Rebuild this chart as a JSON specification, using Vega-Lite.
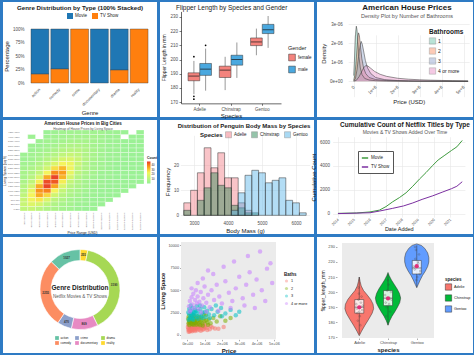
{
"$schema":"https://vega.github.io/schema/vega-lite/v6.json",
"background":"#2e7bc4",
"padding":{"left":2,"top":2,"right":2,"bottom":2},
"columns":3,
"spacing":3,
"bounds":"flush",
"resolve":{"scale":{"color":"independent","fill":"independent","theta":"independent","xOffset":"independent"},"legend":{"color":"independent","fill":"independent"}},
"config":{
 "font":"Liberation Sans",
 "view":{"fill":"white","stroke":null},
 "axis":{"labelFontSize":4.5,"labelColor":"#4d4d4d","titleFontSize":6,"titleFontWeight":"normal","titleColor":"#1a1a1a","domain":false,"ticks":false,"grid":false,"labelPadding":2,"titlePadding":2,"labelOverlap":false,"labelFlush":false,"labelBound":false,"minExtent":0,"maxExtent":200},
 "legend":{"labelFontSize":5,"titleFontSize":6,"labelColor":"#1a1a1a","titleColor":"#1a1a1a","rowPadding":1,"titlePadding":2,"labelOffset":2,"padding":0},
 "title":{"fontSize":6.5,"fontWeight":"bold","color":"#1a1a1a","frame":"group","subtitleColor":"#555555","subtitleFontSize":5}
},
"concat":[
 {
  "width":154,"height":115,
  "title":{"text":"Genre Distribution by Type (100% Stacked)","fontSize":6.2,"anchor":"middle","offset":-9},
  "data":{"values":[
   {"genre":"action","type":"Movie","pct":0.836},{"genre":"action","type":"TV Show","pct":0.164},
   {"genre":"comedy","type":"Movie","pct":0.742},{"genre":"comedy","type":"TV Show","pct":0.258},
   {"genre":"crime","type":"TV Show","pct":1},
   {"genre":"documentary","type":"Movie","pct":1},
   {"genre":"drama","type":"Movie","pct":0.761},{"genre":"drama","type":"TV Show","pct":0.239},
   {"genre":"reality","type":"TV Show","pct":1}
  ]},
  "mark":{"type":"bar","stroke":"#3a3a3a","strokeWidth":0.4},
  "encoding":{
   "x":{"field":"genre","type":"nominal","sort":null,"scale":{"range":[25,148],"paddingInner":0.1,"paddingOuter":0.15},
        "axis":{"title":"Genre","offset":-31.3,"labelAngle":-45,"labelAlign":"right","labelBaseline":"middle","labelFontSize":4,"labelPadding":3,"titlePadding":3,"labelOverlap":false}},
   "y":{"field":"pct","type":"quantitative","stack":"zero","scale":{"domain":[-0.05,1.05],"range":[83.7,24.3],"nice":false,"zero":false},
        "axis":{"title":"Percentage","offset":-25,"values":[0,0.25,0.5,0.75,1],"format":".0%","labelPadding":4,"titlePadding":3,"labelOverlap":false}},
   "color":{"field":"type","type":"nominal","scale":{"domain":["Movie","TV Show"],"range":["#1f77b4","#ff7f0e"]},
        "legend":{"title":null,"orient":"none","legendX":64,"legendY":11,"direction":"horizontal","symbolType":"square","symbolSize":36,"symbolStrokeWidth":0,"labelFontSize":4.5,"columnPadding":4}},
   "order":{"field":"type","sort":"descending"}
  }
 },
 {
  "width":154,"height":115,
  "title":{"text":"Flipper Length by Species and Gender","fontWeight":"normal","fontSize":6.5,"anchor":"start","dx":16,"offset":-9},
  "data":{"values":[
   {"species":"Adelie","sex":"female","lo":175.5,"q1":185,"med":188.3,"q3":190.6,"hi":199},
   {"species":"Adelie","sex":"male","lo":178,"q1":188.8,"med":193.2,"q3":197.2,"hi":207.7},
   {"species":"Chinstrap","sex":"female","lo":178.4,"q1":187.3,"med":192.5,"q3":195.3,"hi":201.9},
   {"species":"Chinstrap","sex":"male","lo":187,"q1":196,"med":200,"q3":203,"hi":212},
   {"species":"Gentoo","sex":"female","lo":203,"q1":209.8,"med":212.4,"q3":215.2,"hi":221.8},
   {"species":"Gentoo","sex":"male","lo":208.2,"q1":218.3,"med":221,"q3":224.8,"hi":230.7}
  ]},
  "layer":[
   {"mark":{"type":"rule","color":"#333333","strokeWidth":0.5},
    "encoding":{
     "x":{"field":"species","type":"nominal","scale":{"range":[21,121],"paddingInner":0.25,"paddingOuter":0.225},
          "axis":{"title":"Species","offset":-13.65,"labelAngle":0,"domain":true,"domainColor":"#000000","domainWidth":0.6,"ticks":true,"tickColor":"#000000","tickSize":2,"tickWidth":0.5,"labelFontSize":4.5,"labelPadding":1.5,"titlePadding":1.5,"labelOverlap":false}},
     "xOffset":{"field":"sex","type":"nominal","scale":{"paddingInner":0,"paddingOuter":0}},
     "y":{"field":"lo","type":"quantitative","scale":{"domain":[169.05,233.95],"range":[101.35,9.4],"nice":false,"zero":false},
          "axis":{"title":"Flipper Length in mm","offset":-21,"values":[170,180,190,200,210,220,230],"domain":true,"domainColor":"#000000","domainWidth":0.6,"ticks":true,"tickColor":"#000000","tickSize":2,"tickWidth":0.5,"labelPadding":1.5,"titlePadding":3,"titleFontSize":5,"labelOverlap":false}},
     "y2":{"field":"hi"}}},
   {"mark":{"type":"bar","stroke":"#333333","strokeWidth":0.5},
    "encoding":{
     "x":{"field":"species","type":"nominal",
          "axis":{"title":"Species","offset":-13.65,"labelAngle":0,"domain":true,"domainColor":"#000000","domainWidth":0.6,"ticks":true,"tickColor":"#000000","tickSize":2,"tickWidth":0.5,"labelFontSize":4.5,"labelPadding":1.5,"titlePadding":1.5,"labelOverlap":false}},
     "xOffset":{"field":"sex","type":"nominal"},
     "y":{"field":"q1","type":"quantitative",
          "axis":{"title":"Flipper Length in mm","offset":-21,"values":[170,180,190,200,210,220,230],"domain":true,"domainColor":"#000000","domainWidth":0.6,"ticks":true,"tickColor":"#000000","tickSize":2,"tickWidth":0.5,"labelPadding":1.5,"titlePadding":3,"titleFontSize":5,"labelOverlap":false}},
     "y2":{"field":"q3"},
     "fill":{"field":"sex","type":"nominal","scale":{"domain":["female","male"],"range":["#f4837d","#4aa8df"]},
        "legend":{"title":"Gender","orient":"none","legendX":128,"legendY":44,"symbolType":"square","symbolSize":45,"symbolStrokeColor":"#333333","symbolStrokeWidth":0.5,"labelFontSize":4.5,"titleFontSize":5.5,"titleFontWeight":"normal","rowPadding":2}}}},
   {"mark":{"type":"tick","color":"#1a1a1a","thickness":1,"size":11},
    "encoding":{
     "x":{"field":"species","type":"nominal",
          "axis":{"title":"Species","offset":-13.65,"labelAngle":0,"domain":true,"domainColor":"#000000","domainWidth":0.6,"ticks":true,"tickColor":"#000000","tickSize":2,"tickWidth":0.5,"labelFontSize":4.5,"labelPadding":1.5,"titlePadding":1.5,"labelOverlap":false}},
     "xOffset":{"field":"sex","type":"nominal"},
     "y":{"field":"med","type":"quantitative",
          "axis":{"title":"Flipper Length in mm","offset":-21,"values":[170,180,190,200,210,220,230],"domain":true,"domainColor":"#000000","domainWidth":0.6,"ticks":true,"tickColor":"#000000","tickSize":2,"tickWidth":0.5,"labelPadding":1.5,"titlePadding":3,"titleFontSize":5,"labelOverlap":false}}}},
   {"data":{"values":[
     {"species":"Adelie","sex":"female","v":202},{"species":"Adelie","sex":"female","v":174},
     {"species":"Adelie","sex":"female","v":172},{"species":"Adelie","sex":"male","v":210}
    ]},
    "mark":{"type":"point","filled":true,"color":"#000000","size":3,"opacity":1},
    "encoding":{
     "x":{"field":"species","type":"nominal",
          "axis":{"title":"Species","offset":-13.65,"labelAngle":0,"domain":true,"domainColor":"#000000","domainWidth":0.6,"ticks":true,"tickColor":"#000000","tickSize":2,"tickWidth":0.5,"labelFontSize":4.5,"labelPadding":1.5,"titlePadding":1.5,"labelOverlap":false}},
     "xOffset":{"field":"sex","type":"nominal"},
     "y":{"field":"v","type":"quantitative",
          "axis":{"title":"Flipper Length in mm","offset":-21,"values":[170,180,190,200,210,220,230],"domain":true,"domainColor":"#000000","domainWidth":0.6,"ticks":true,"tickColor":"#000000","tickSize":2,"tickWidth":0.5,"labelPadding":1.5,"titlePadding":3,"titleFontSize":5,"labelOverlap":false}}}}
  ]
 },
 {
  "width":156,"height":115,
  "title":{"text":"American House Prices","subtitle":"Density Plot by Number of Bathrooms","fontSize":8,"subtitleFontSize":5.5,"subtitlePadding":2,"anchor":"middle","dx":12,"offset":-17},
  "data":{"values":[
   {"bath":"1","price":0,"d":0.3},{"bath":"1","price":30000,"d":1.0},{"bath":"1","price":60000,"d":1.9},{"bath":"1","price":90000,"d":2.6},{"bath":"1","price":120000,"d":2.9},{"bath":"1","price":150000,"d":2.7},{"bath":"1","price":190000,"d":2.1},{"bath":"1","price":240000,"d":1.3},{"bath":"1","price":300000,"d":0.7},{"bath":"1","price":380000,"d":0.35},{"bath":"1","price":500000,"d":0.15},{"bath":"1","price":700000,"d":0.07},{"bath":"1","price":1000000,"d":0.03},{"bath":"1","price":1500000,"d":0.01},{"bath":"1","price":2500000,"d":0},{"bath":"1","price":5200000,"d":0},
   {"bath":"2","price":0,"d":0.05},{"bath":"2","price":50000,"d":0.3},{"bath":"2","price":100000,"d":0.9},{"bath":"2","price":150000,"d":1.7},{"bath":"2","price":190000,"d":2.3},{"bath":"2","price":220000,"d":2.55},{"bath":"2","price":260000,"d":2.4},{"bath":"2","price":310000,"d":1.8},{"bath":"2","price":370000,"d":1.2},{"bath":"2","price":450000,"d":0.7},{"bath":"2","price":550000,"d":0.4},{"bath":"2","price":700000,"d":0.2},{"bath":"2","price":1000000,"d":0.09},{"bath":"2","price":1500000,"d":0.04},{"bath":"2","price":2500000,"d":0.01},{"bath":"2","price":5200000,"d":0},
   {"bath":"3","price":0,"d":0.01},{"bath":"3","price":80000,"d":0.15},{"bath":"3","price":150000,"d":0.6},{"bath":"3","price":220000,"d":1.3},{"bath":"3","price":290000,"d":1.9},{"bath":"3","price":340000,"d":2.1},{"bath":"3","price":390000,"d":1.95},{"bath":"3","price":450000,"d":1.6},{"bath":"3","price":530000,"d":1.1},{"bath":"3","price":630000,"d":0.7},{"bath":"3","price":780000,"d":0.4},{"bath":"3","price":1000000,"d":0.2},{"bath":"3","price":1400000,"d":0.09},{"bath":"3","price":2000000,"d":0.04},{"bath":"3","price":3000000,"d":0.015},{"bath":"3","price":5200000,"d":0},
   {"bath":"4 or more","price":0,"d":0},{"bath":"4 or more","price":120000,"d":0.05},{"bath":"4 or more","price":250000,"d":0.25},{"bath":"4 or more","price":380000,"d":0.55},{"bath":"4 or more","price":480000,"d":0.76},{"bath":"4 or more","price":560000,"d":0.83},{"bath":"4 or more","price":650000,"d":0.8},{"bath":"4 or more","price":780000,"d":0.68},{"bath":"4 or more","price":950000,"d":0.52},{"bath":"4 or more","price":1200000,"d":0.37},{"bath":"4 or more","price":1500000,"d":0.26},{"bath":"4 or more","price":2000000,"d":0.16},{"bath":"4 or more","price":2500000,"d":0.11},{"bath":"4 or more","price":3000000,"d":0.08},{"bath":"4 or more","price":3500000,"d":0.06},{"bath":"4 or more","price":4000000,"d":0.045},{"bath":"4 or more","price":4500000,"d":0.035},{"bath":"4 or more","price":5000000,"d":0.025},{"bath":"4 or more","price":5200000,"d":0.02}
  ]},
  "layer":[
   {"mark":{"type":"area","opacity":0.4},
    "encoding":{
     "x":{"field":"price","type":"quantitative","scale":{"domain":[-250000,5250000],"range":[31.2,152.2],"nice":false,"zero":false},
          "axis":{"title":"Price (USD)","offset":-32.85,"values":[0,1000000,2000000,3000000,4000000,5000000],"format":",","labelAngle":-45,"labelAlign":"right","labelBaseline":"middle","labelFontSize":4.5,"labelPadding":2,"titlePadding":4,"grid":true,"gridColor":"#e6e6e6","gridWidth":0.6,"labelOverlap":false}},
     "y":{"field":"d","type":"quantitative","stack":null,"scale":{"domain":[-0.15,3.1],"range":[82.15,20.4],"nice":false,"zero":false},
          "axis":{"title":"Density","offset":-31.2,"values":[0,1,2,3],"labelExpr":"datum.value == 0 ? '0e+00' : datum.value + 'e-06'","labelPadding":6,"titlePadding":3,"grid":true,"gridColor":"#e6e6e6","gridWidth":0.6,"labelOverlap":false}},
     "fill":{"field":"bath","type":"nominal","scale":{"domain":["1","2","3","4 or more"],"range":["#66c2a5","#fc8d62","#8da0cb","#e78ac3"]},
        "legend":{"title":"Bathrooms","orient":"none","legendX":112,"legendY":27,"titleFontSize":6.5,"titleFontWeight":"bold","labelFontSize":5,"symbolType":"square","symbolSize":40,"symbolStrokeColor":"#333333","symbolStrokeWidth":0.5,"symbolOpacity":0.45,"rowPadding":1}}}},
   {"mark":{"type":"line","color":"#333333","strokeWidth":0.5},
    "encoding":{
     "x":{"field":"price","type":"quantitative",
          "axis":{"title":"Price (USD)","offset":-32.85,"values":[0,1000000,2000000,3000000,4000000,5000000],"format":",","labelAngle":-45,"labelAlign":"right","labelBaseline":"middle","labelFontSize":4.5,"labelPadding":2,"titlePadding":4,"grid":true,"gridColor":"#e6e6e6","gridWidth":0.6,"labelOverlap":false}},
     "y":{"field":"d","type":"quantitative","stack":null,
          "axis":{"title":"Density","offset":-31.2,"values":[0,1,2,3],"labelExpr":"datum.value == 0 ? '0e+00' : datum.value + 'e-06'","labelPadding":6,"titlePadding":3,"grid":true,"gridColor":"#e6e6e6","gridWidth":0.6,"labelOverlap":false}},
     "detail":{"field":"bath"}}}
  ]
 },
 {
  "width":154,"height":114,
  "title":{"text":"American House Prices in Big Cities","subtitle":"Heatmap of House Prices by Living Space","fontSize":4.5,"subtitleFontSize":3.2,"subtitlePadding":1,"anchor":"middle","dx":3,"offset":-10},
  "data":{"values":[
   {"p":3,"s":17,"n":1},{"p":4,"s":17,"n":2},{"p":5,"s":17,"n":3},{"p":6,"s":17,"n":3},{"p":7,"s":17,"n":3},{"p":8,"s":17,"n":3},{"p":9,"s":17,"n":3},{"p":10,"s":17,"n":3},{"p":11,"s":17,"n":2},{"p":12,"s":17,"n":2},{"p":13,"s":17,"n":1},{"p":15,"s":17,"n":1},
   {"p":1,"s":16,"n":2},{"p":3,"s":16,"n":2},{"p":4,"s":16,"n":3},{"p":5,"s":16,"n":3},{"p":6,"s":16,"n":4},{"p":7,"s":16,"n":4},{"p":8,"s":16,"n":4},{"p":9,"s":16,"n":4},{"p":10,"s":16,"n":3},{"p":11,"s":16,"n":2},{"p":12,"s":16,"n":2},{"p":14,"s":16,"n":1},{"p":15,"s":16,"n":1},
   {"p":2,"s":15,"n":2},{"p":3,"s":15,"n":3},{"p":4,"s":15,"n":3},{"p":5,"s":15,"n":4},{"p":6,"s":15,"n":5},{"p":7,"s":15,"n":5},{"p":8,"s":15,"n":5},{"p":9,"s":15,"n":4},{"p":10,"s":15,"n":3},{"p":11,"s":15,"n":2},{"p":12,"s":15,"n":2},{"p":13,"s":15,"n":1},{"p":14,"s":15,"n":1},{"p":15,"s":15,"n":1},
   {"p":1,"s":14,"n":2},{"p":2,"s":14,"n":2},{"p":3,"s":14,"n":3},{"p":4,"s":14,"n":4},{"p":5,"s":14,"n":6},{"p":6,"s":14,"n":7},{"p":7,"s":14,"n":7},{"p":8,"s":14,"n":6},{"p":9,"s":14,"n":4},{"p":10,"s":14,"n":3},{"p":11,"s":14,"n":2},{"p":12,"s":14,"n":2},{"p":13,"s":14,"n":1},{"p":14,"s":14,"n":1},{"p":15,"s":14,"n":1},
   {"p":1,"s":13,"n":2},{"p":2,"s":13,"n":3},{"p":3,"s":13,"n":4},{"p":4,"s":13,"n":6},{"p":5,"s":13,"n":8},{"p":6,"s":13,"n":9},{"p":7,"s":13,"n":9},{"p":8,"s":13,"n":7},{"p":9,"s":13,"n":5},{"p":10,"s":13,"n":3},{"p":11,"s":13,"n":2},{"p":12,"s":13,"n":2},{"p":13,"s":13,"n":1},{"p":14,"s":13,"n":1},{"p":15,"s":13,"n":1},
   {"p":0,"s":12,"n":2},{"p":1,"s":12,"n":3},{"p":2,"s":12,"n":4},{"p":3,"s":12,"n":6},{"p":4,"s":12,"n":8},{"p":5,"s":12,"n":11},{"p":6,"s":12,"n":13},{"p":7,"s":12,"n":11},{"p":8,"s":12,"n":7},{"p":9,"s":12,"n":5},{"p":10,"s":12,"n":3},{"p":11,"s":12,"n":2},{"p":12,"s":12,"n":2},{"p":13,"s":12,"n":1},{"p":14,"s":12,"n":1},{"p":15,"s":12,"n":1},
   {"p":0,"s":11,"n":2},{"p":1,"s":11,"n":3},{"p":2,"s":11,"n":5},{"p":3,"s":11,"n":8},{"p":4,"s":11,"n":11},{"p":5,"s":11,"n":16},{"p":6,"s":11,"n":17},{"p":7,"s":11,"n":13},{"p":8,"s":11,"n":8},{"p":9,"s":11,"n":5},{"p":10,"s":11,"n":3},{"p":11,"s":11,"n":2},{"p":12,"s":11,"n":2},{"p":13,"s":11,"n":1},{"p":14,"s":11,"n":1},{"p":15,"s":11,"n":1},
   {"p":0,"s":10,"n":3},{"p":1,"s":10,"n":4},{"p":2,"s":10,"n":7},{"p":3,"s":10,"n":11},{"p":4,"s":10,"n":17},{"p":5,"s":10,"n":23},{"p":6,"s":10,"n":21},{"p":7,"s":10,"n":13},{"p":8,"s":10,"n":7},{"p":9,"s":10,"n":4},{"p":10,"s":10,"n":3},{"p":11,"s":10,"n":2},{"p":12,"s":10,"n":1},{"p":13,"s":10,"n":1},{"p":14,"s":10,"n":1},{"p":15,"s":10,"n":1},
   {"p":0,"s":9,"n":4},{"p":1,"s":9,"n":6},{"p":2,"s":9,"n":9},{"p":3,"s":9,"n":15},{"p":4,"s":9,"n":26},{"p":5,"s":9,"n":31},{"p":6,"s":9,"n":22},{"p":7,"s":9,"n":11},{"p":8,"s":9,"n":7},{"p":9,"s":9,"n":4},{"p":10,"s":9,"n":3},{"p":11,"s":9,"n":2},{"p":12,"s":9,"n":1},{"p":13,"s":9,"n":1},{"p":14,"s":9,"n":1},{"p":15,"s":9,"n":1},
   {"p":0,"s":8,"n":5},{"p":1,"s":8,"n":7},{"p":2,"s":8,"n":12},{"p":3,"s":8,"n":23},{"p":4,"s":8,"n":37},{"p":5,"s":8,"n":35},{"p":6,"s":8,"n":20},{"p":7,"s":8,"n":10},{"p":8,"s":8,"n":6},{"p":9,"s":8,"n":4},{"p":10,"s":8,"n":2},{"p":11,"s":8,"n":2},{"p":12,"s":8,"n":1},{"p":13,"s":8,"n":1},{"p":14,"s":8,"n":1},{"p":15,"s":8,"n":1},
   {"p":0,"s":7,"n":5},{"p":1,"s":7,"n":9},{"p":2,"s":7,"n":17},{"p":3,"s":7,"n":33},{"p":4,"s":7,"n":45},{"p":5,"s":7,"n":32},{"p":6,"s":7,"n":16},{"p":7,"s":7,"n":8},{"p":8,"s":7,"n":5},{"p":9,"s":7,"n":3},{"p":10,"s":7,"n":2},{"p":11,"s":7,"n":2},{"p":12,"s":7,"n":1},{"p":13,"s":7,"n":1},{"p":14,"s":7,"n":1},{"p":15,"s":7,"n":1},
   {"p":0,"s":6,"n":6},{"p":1,"s":6,"n":11},{"p":2,"s":6,"n":24},{"p":3,"s":6,"n":44},{"p":4,"s":6,"n":43},{"p":5,"s":6,"n":24},{"p":6,"s":6,"n":12},{"p":7,"s":6,"n":7},{"p":8,"s":6,"n":4},{"p":9,"s":6,"n":3},{"p":10,"s":6,"n":2},{"p":11,"s":6,"n":1},{"p":12,"s":6,"n":1},{"p":13,"s":6,"n":1},{"p":14,"s":6,"n":1},{"p":15,"s":6,"n":1},
   {"p":0,"s":5,"n":8},{"p":1,"s":5,"n":15},{"p":2,"s":5,"n":33},{"p":3,"s":5,"n":45},{"p":4,"s":5,"n":34},{"p":5,"s":5,"n":17},{"p":6,"s":5,"n":9},{"p":7,"s":5,"n":6},{"p":8,"s":5,"n":4},{"p":9,"s":5,"n":2},{"p":10,"s":5,"n":2},{"p":11,"s":5,"n":1},{"p":12,"s":5,"n":1},{"p":13,"s":5,"n":1},{"p":14,"s":5,"n":1},
   {"p":0,"s":4,"n":9},{"p":1,"s":4,"n":20},{"p":2,"s":4,"n":36},{"p":3,"s":4,"n":38},{"p":4,"s":4,"n":23},{"p":5,"s":4,"n":12},{"p":6,"s":4,"n":7},{"p":7,"s":4,"n":5},{"p":8,"s":4,"n":3},{"p":9,"s":4,"n":2},{"p":10,"s":4,"n":1},{"p":11,"s":4,"n":1},{"p":12,"s":4,"n":1},{"p":13,"s":4,"n":1},
   {"p":0,"s":3,"n":11},{"p":1,"s":3,"n":23},{"p":2,"s":3,"n":33},{"p":3,"s":3,"n":27},{"p":4,"s":3,"n":15},{"p":5,"s":3,"n":9},{"p":6,"s":3,"n":6},{"p":7,"s":3,"n":4},{"p":8,"s":3,"n":2},{"p":9,"s":3,"n":2},{"p":10,"s":3,"n":1},{"p":11,"s":3,"n":1},{"p":12,"s":3,"n":1},
   {"p":0,"s":2,"n":13},{"p":1,"s":2,"n":22},{"p":2,"s":2,"n":25},{"p":3,"s":2,"n":17},{"p":4,"s":2,"n":10},{"p":5,"s":2,"n":7},{"p":6,"s":2,"n":4},{"p":7,"s":2,"n":3},{"p":8,"s":2,"n":2},{"p":9,"s":2,"n":1},{"p":10,"s":2,"n":1},{"p":11,"s":2,"n":1},
   {"p":0,"s":1,"n":13},{"p":1,"s":1,"n":18},{"p":2,"s":1,"n":16},{"p":3,"s":1,"n":11},{"p":4,"s":1,"n":7},{"p":5,"s":1,"n":5},{"p":6,"s":1,"n":4},{"p":7,"s":1,"n":2},{"p":8,"s":1,"n":2},{"p":9,"s":1,"n":1},{"p":10,"s":1,"n":1},
   {"p":0,"s":0,"n":11},{"p":1,"s":0,"n":13},{"p":2,"s":0,"n":10},{"p":3,"s":0,"n":7},{"p":4,"s":0,"n":6},{"p":5,"s":0,"n":4},{"p":6,"s":0,"n":3},{"p":7,"s":0,"n":2},{"p":8,"s":0,"n":1},{"p":9,"s":0,"n":1}
  ]},
  "mark":{"type":"rect","stroke":"white","strokeWidth":0.3},
  "encoding":{
   "x":{"field":"p","type":"ordinal","scale":{"domain":[0,1,2,3,4,5,6,7,8,9,10,11,12,13,14,15],"range":[17,141],"paddingInner":0,"paddingOuter":0},
        "axis":{"title":"Price Range (USD)","offset":-23,"labelAngle":-90,"labelAlign":"right","labelBaseline":"middle","labelFontSize":2.4,"labelColor":"#777777","labelPadding":1,"titleFontSize":3.5,"titlePadding":1.5,"labelOverlap":false,
                "labelExpr":"'$' + (datum.value*100) + 'K-$' + (datum.value*100+100) + 'K'"}},
   "y":{"field":"s","type":"ordinal","sort":"descending","scale":{"domain":[17,16,15,14,13,12,11,10,9,8,7,6,5,4,3,2,1,0],"range":[10,91],"paddingInner":0,"paddingOuter":0},
        "axis":{"title":"Living Space (sq ft)","offset":-17,"labelFontSize":2.4,"labelColor":"#777777","labelPadding":1,"titleFontSize":3.5,"titlePadding":1.5,"labelOverlap":false,
                "labelExpr":"(datum.value*250) + '-' + (datum.value*250+250)"}},
   "color":{"field":"n","type":"quantitative","scale":{"domain":[0,23,46],"range":["#98f098","#f4f45c","#e8382a"]},
        "legend":{"title":"Count","orient":"none","legendX":144,"legendY":36,"titleFontSize":3.5,"titleFontWeight":"bold","labelFontSize":2.8,"gradientLength":22,"gradientThickness":3.5,"values":[10,20,30,40],"labelOffset":1}}
  }
 },
 {
  "width":154,"height":114,
  "title":{"text":"Distribution of Penguin Body Mass by Species","fontSize":6,"anchor":"middle","dx":7,"offset":-9},
  "data":{"values":[
   {"sp":"Adelie","lo":2700,"hi":2900,"n":5},{"sp":"Adelie","lo":2900,"hi":3100,"n":10},{"sp":"Adelie","lo":3100,"hi":3300,"n":17},{"sp":"Adelie","lo":3300,"hi":3500,"n":27},{"sp":"Adelie","lo":3500,"hi":3700,"n":19},{"sp":"Adelie","lo":3700,"hi":3900,"n":25},{"sp":"Adelie","lo":3900,"hi":4100,"n":15},{"sp":"Adelie","lo":4100,"hi":4300,"n":15},{"sp":"Adelie","lo":4300,"hi":4500,"n":5},{"sp":"Adelie","lo":4500,"hi":4700,"n":2},
   {"sp":"Chinstrap","lo":2700,"hi":2900,"n":2},{"sp":"Chinstrap","lo":3100,"hi":3300,"n":6},{"sp":"Chinstrap","lo":3300,"hi":3500,"n":11},{"sp":"Chinstrap","lo":3500,"hi":3700,"n":17},{"sp":"Chinstrap","lo":3700,"hi":3900,"n":12},{"sp":"Chinstrap","lo":3900,"hi":4100,"n":11},{"sp":"Chinstrap","lo":4100,"hi":4300,"n":4},{"sp":"Chinstrap","lo":4300,"hi":4500,"n":3},{"sp":"Chinstrap","lo":4500,"hi":4700,"n":1},{"sp":"Chinstrap","lo":4700,"hi":4900,"n":1},
   {"sp":"Gentoo","lo":4100,"hi":4300,"n":2},{"sp":"Gentoo","lo":4300,"hi":4500,"n":9},{"sp":"Gentoo","lo":4500,"hi":4700,"n":16},{"sp":"Gentoo","lo":4700,"hi":4900,"n":18},{"sp":"Gentoo","lo":4900,"hi":5100,"n":17},{"sp":"Gentoo","lo":5100,"hi":5300,"n":13},{"sp":"Gentoo","lo":5300,"hi":5500,"n":14},{"sp":"Gentoo","lo":5500,"hi":5700,"n":15},{"sp":"Gentoo","lo":5700,"hi":5900,"n":6},{"sp":"Gentoo","lo":5900,"hi":6100,"n":5},{"sp":"Gentoo","lo":6100,"hi":6300,"n":1}
  ]},
  "mark":{"type":"rect","fillOpacity":0.45,"stroke":"#333333","strokeWidth":0.5},
  "encoding":{
   "x":{"field":"lo","type":"quantitative","scale":{"domain":[2600,6400],"range":[20.4,149.6],"nice":false,"zero":false},
        "axis":{"title":"Body Mass (g)","offset":-15.3,"values":[3000,4000,5000,6000],"format":"d","labelPadding":2,"titlePadding":2,"grid":true,"gridColor":"#e6e6e6","gridWidth":0.6,"labelOverlap":false}},
   "x2":{"field":"hi"},
   "y":{"field":"n","type":"quantitative","scale":{"domain":[-1.35,28.35],"range":[98.7,24.4],"nice":false,"zero":false},
        "axis":{"title":"Frequency","offset":-20.4,"values":[0,10,20],"labelPadding":2,"titlePadding":3,"grid":true,"gridColor":"#e6e6e6","gridWidth":0.6,"labelOverlap":false}},
   "y2":{"datum":0},
   "fill":{"field":"sp","type":"nominal","scale":{"domain":["Adelie","Chinstrap","Gentoo"],"range":["#f27c86","#2e8b57","#56b4e9"]},
        "legend":{"title":"Species","orient":"none","legendX":40,"legendY":11,"direction":"horizontal","titleOrient":"left","titleFontWeight":"bold","titleFontSize":6,"labelFontSize":4.5,"symbolType":"square","symbolSize":36,"symbolStrokeColor":"#333333","symbolStrokeWidth":0.5,"symbolOpacity":0.5,"columnPadding":3}}
  }
 },
 {
  "width":156,"height":114,
  "title":{"text":"Cumulative Count of Netflix Titles by Type","subtitle":"Movies & TV Shows Added Over Time","fontSize":6.5,"subtitleFontSize":5,"subtitlePadding":2,"anchor":"middle","dx":10,"offset":-15},
  "data":{"values":[
   {"date":"2014-01-01","type":"Movie","n":30},{"date":"2015-03-01","type":"Movie","n":60},{"date":"2016-01-01","type":"Movie","n":150},{"date":"2016-08-01","type":"Movie","n":300},{"date":"2017-01-01","type":"Movie","n":600},{"date":"2017-06-01","type":"Movie","n":1000},{"date":"2017-11-01","type":"Movie","n":1350},{"date":"2018-04-01","type":"Movie","n":1750},{"date":"2018-09-01","type":"Movie","n":2300},{"date":"2019-02-01","type":"Movie","n":2900},{"date":"2019-07-01","type":"Movie","n":3450},{"date":"2019-12-01","type":"Movie","n":4050},{"date":"2020-04-01","type":"Movie","n":4500},{"date":"2020-09-01","type":"Movie","n":4900},{"date":"2021-02-01","type":"Movie","n":5300},{"date":"2021-06-01","type":"Movie","n":5600},{"date":"2021-10-01","type":"Movie","n":6131},
   {"date":"2014-01-01","type":"TV Show","n":10},{"date":"2016-01-01","type":"TV Show","n":80},{"date":"2016-08-01","type":"TV Show","n":220},{"date":"2017-06-01","type":"TV Show","n":450},{"date":"2018-02-01","type":"TV Show","n":650},{"date":"2018-09-01","type":"TV Show","n":900},{"date":"2019-04-01","type":"TV Show","n":1200},{"date":"2019-12-01","type":"TV Show","n":1500},{"date":"2020-07-01","type":"TV Show","n":1800},{"date":"2021-02-01","type":"TV Show","n":2100},{"date":"2021-06-01","type":"TV Show","n":2300},{"date":"2021-10-01","type":"TV Show","n":2676}
  ]},
  "mark":{"type":"line","strokeWidth":1},
  "encoding":{
   "x":{"field":"date","type":"temporal","scale":{"domain":[{"year":2013,"month":9,"date":1},{"year":2021,"month":12,"date":1}],"range":[15.6,147.9],"nice":false},
        "axis":{"title":"Date Added","offset":-16.7,"values":[{"year":2014},{"year":2015},{"year":2016},{"year":2017},{"year":2018},{"year":2019},{"year":2020},{"year":2021}],"format":"%Y","labelAngle":-45,"labelAlign":"right","labelBaseline":"middle","labelFontSize":3.8,"labelColor":"#555555","labelPadding":1.5,"titlePadding":0.5,"titleFontSize":5.5,"grid":true,"gridColor":"#e6e6e6","gridWidth":0.6,"labelOverlap":false}},
   "y":{"field":"n","type":"quantitative","scale":{"domain":[-300,6430],"range":[97.3,16.9],"nice":false,"zero":false},
        "axis":{"title":"Cumulative Count","offset":-15.6,"values":[0,2000,4000,6000],"format":"d","labelPadding":3,"titlePadding":3,"grid":true,"gridColor":"#e6e6e6","gridWidth":0.6,"labelOverlap":false}},
   "color":{"field":"type","type":"nominal","scale":{"domain":["Movie","TV Show"],"range":["#3f9b3f","#7b2fa0"]},
        "legend":{"title":null,"orient":"none","legendX":41,"legendY":31,"symbolType":"stroke","symbolStrokeWidth":1.5,"symbolSize":40,"labelFontSize":4.5,"strokeColor":"#555555","fillColor":"white","padding":3,"rowPadding":2}}
  }
 },
 {
  "width":154,"height":116,
  "data":{"values":[
   {"genre":"reality","n":255,"o":1},
   {"genre":"drama","n":3190,"o":2},
   {"genre":"documentary","n":869,"o":3},
   {"genre":"crime","n":470,"o":4},
   {"genre":"comedy","n":2255,"o":5},
   {"genre":"action","n":1027,"o":6}
  ]},
  "layer":[
   {"data":{"values":[{}]},
    "mark":{"type":"rect","color":"white"},
    "encoding":{}},
   {"mark":{"type":"arc","innerRadius":29,"outerRadius":40,"yOffset":-5.5,"stroke":"white","strokeWidth":0.6},
    "encoding":{
     "theta":{"field":"n","type":"quantitative","stack":true},
     "order":{"field":"o"},
     "color":{"field":"genre","type":"nominal","scale":{"domain":["action","crime","drama","comedy","documentary","reality"],"range":["#66c2a5","#8da0cb","#a6d854","#fc8d62","#e78ac3","#ffd92f"]},
        "legend":{"title":null,"orient":"none","legendX":52,"legendY":99,"columns":3,"direction":"horizontal","symbolType":"square","symbolSize":14,"symbolStrokeWidth":0,"labelFontSize":3,"columnPadding":3,"rowPadding":1,"labelOffset":1.5}}}},
   {"mark":{"type":"text","radius":34.5,"yOffset":-5.5,"fontSize":3,"fontWeight":"bold","color":"#333333"},
    "encoding":{
     "theta":{"field":"n","type":"quantitative","stack":true},
     "order":{"field":"o"},
     "text":{"field":"n","type":"quantitative","format":"d"}}},
   {"data":{"values":[{"t":"Genre Distribution"}]},
    "mark":{"type":"text","fontSize":6.5,"fontWeight":"bold","color":"#1a1a1a","dy":-7},
    "encoding":{"text":{"field":"t"}}},
   {"data":{"values":[{"t":"Netflix Movies & TV Shows"}]},
    "mark":{"type":"text","fontSize":4.5,"color":"#555555","dy":2},
    "encoding":{"text":{"field":"t"}}}
  ]
 },
 {
  "width":154,"height":116,
  "layer":[
   {"data":{"values":[{}]},
    "mark":{"type":"rect","color":"#ebebeb"},
    "encoding":{
     "x":{"datum":-360,"type":"quantitative","scale":{"domain":[-360,5120],"range":[21,116],"nice":false,"zero":false},
          "axis":{"title":"Price","offset":-13.7,"values":[0,1000,2000,3000,4000,5000],"labelExpr":"datum.value == 0 ? '0e+00' : (datum.value/1000) + 'e+06'","labelFontSize":3.8,"ticks":true,"tickSize":1.5,"tickColor":"#333333","tickWidth":0.4,"labelPadding":1,"titlePadding":1.5,"titleFontWeight":"bold","grid":true,"gridColor":"white","gridWidth":0.6,"labelOverlap":false}},
     "x2":{"datum":5120},
     "y":{"datum":-480,"type":"quantitative","scale":{"domain":[-480,10370],"range":[102.3,5],"nice":false,"zero":false},
          "axis":{"title":"Living Space","offset":-21,"values":[0,2500,5000,7500,10000],"format":"d","labelFontSize":3.8,"ticks":true,"tickSize":1.5,"tickColor":"#333333","tickWidth":0.4,"labelPadding":1,"titlePadding":2,"titleFontWeight":"bold","grid":true,"gridColor":"white","gridWidth":0.6,"labelOverlap":false}},
     "y2":{"datum":10370}}},
   {"data":{"values":[
     {"b":"1","p":60,"l":600},{"b":"1","p":90,"l":750},{"b":"1","p":120,"l":520},{"b":"1","p":150,"l":880},{"b":"1","p":180,"l":700},{"b":"1","p":210,"l":950},{"b":"1","p":240,"l":640},{"b":"1","p":270,"l":820},{"b":"1","p":300,"l":1050},{"b":"1","p":330,"l":720},{"b":"1","p":360,"l":900},{"b":"1","p":400,"l":600},{"b":"1","p":430,"l":1150},{"b":"1","p":470,"l":800},{"b":"1","p":500,"l":980},{"b":"1","p":550,"l":700},{"b":"1","p":600,"l":1200},{"b":"1","p":650,"l":850},{"b":"1","p":700,"l":620},{"b":"1","p":760,"l":1000},{"b":"1","p":820,"l":760},{"b":"1","p":880,"l":1100},{"b":"1","p":950,"l":680},{"b":"1","p":1020,"l":900},{"b":"1","p":1100,"l":780},{"b":"1","p":1200,"l":1050},{"b":"1","p":1300,"l":650},{"b":"1","p":1450,"l":850},{"b":"1","p":1600,"l":720},{"b":"1","p":40,"l":900},{"b":"1","p":75,"l":1100},{"b":"1","p":110,"l":1250},{"b":"1","p":140,"l":400},{"b":"1","p":200,"l":480},{"b":"1","p":260,"l":1300},{"b":"1","p":320,"l":560},{"b":"1","p":380,"l":1350},{"b":"1","p":450,"l":450},{"b":"1","p":520,"l":1250},{"b":"1","p":580,"l":540},{"b":"1","p":680,"l":1300},{"b":"1","p":780,"l":480},{"b":"1","p":900,"l":580},{"b":"1","p":1000,"l":1300},{"b":"1","p":1150,"l":560},{"b":"1","p":1350,"l":980},{"b":"1","p":1800,"l":700},{"b":"1","p":2100,"l":900},{"b":"1","p":80,"l":350},{"b":"1","p":160,"l":1150},{"b":"1","p":230,"l":560},{"b":"1","p":290,"l":420},{"b":"1","p":350,"l":1150},{"b":"1","p":420,"l":1000},{"b":"1","p":480,"l":620},{"b":"1","p":540,"l":880},{"b":"1","p":620,"l":1000},{"b":"1","p":720,"l":860},{"b":"1","p":850,"l":950},{"b":"1","p":980,"l":1000},
     {"b":"2","p":70,"l":1300},{"b":"2","p":100,"l":1600},{"b":"2","p":130,"l":1100},{"b":"2","p":160,"l":1900},{"b":"2","p":190,"l":1400},{"b":"2","p":220,"l":1700},{"b":"2","p":250,"l":1250},{"b":"2","p":280,"l":2000},{"b":"2","p":310,"l":1500},{"b":"2","p":340,"l":1800},{"b":"2","p":370,"l":1150},{"b":"2","p":400,"l":2200},{"b":"2","p":440,"l":1600},{"b":"2","p":480,"l":1350},{"b":"2","p":520,"l":1900},{"b":"2","p":560,"l":1500},{"b":"2","p":600,"l":2100},{"b":"2","p":650,"l":1250},{"b":"2","p":700,"l":1700},{"b":"2","p":760,"l":1450},{"b":"2","p":820,"l":2000},{"b":"2","p":880,"l":1300},{"b":"2","p":940,"l":1800},{"b":"2","p":1000,"l":1550},{"b":"2","p":1080,"l":2200},{"b":"2","p":1150,"l":1400},{"b":"2","p":1250,"l":1750},{"b":"2","p":1350,"l":1300},{"b":"2","p":1500,"l":1900},{"b":"2","p":1700,"l":1500},{"b":"2","p":1900,"l":2100},{"b":"2","p":50,"l":1800},{"b":"2","p":90,"l":2100},{"b":"2","p":120,"l":1450},{"b":"2","p":170,"l":1650},{"b":"2","p":210,"l":2300},{"b":"2","p":260,"l":1550},{"b":"2","p":300,"l":1200},{"b":"2","p":350,"l":2150},{"b":"2","p":410,"l":1400},{"b":"2","p":460,"l":1750},{"b":"2","p":530,"l":1150},{"b":"2","p":590,"l":1650},{"b":"2","p":680,"l":1950},{"b":"2","p":740,"l":1100},{"b":"2","p":800,"l":1600},{"b":"2","p":900,"l":1050},{"b":"2","p":960,"l":2300},{"b":"2","p":1100,"l":1650},{"b":"2","p":1200,"l":1150},{"b":"2","p":2200,"l":1600},{"b":"2","p":2500,"l":1900},
     {"b":"3","p":90,"l":1700},{"b":"3","p":120,"l":2300},{"b":"3","p":150,"l":1900},{"b":"3","p":180,"l":2700},{"b":"3","p":210,"l":2100},{"b":"3","p":240,"l":2500},{"b":"3","p":270,"l":1800},{"b":"3","p":300,"l":3000},{"b":"3","p":330,"l":2200},{"b":"3","p":370,"l":2600},{"b":"3","p":410,"l":1950},{"b":"3","p":450,"l":2800},{"b":"3","p":490,"l":2350},{"b":"3","p":540,"l":3200},{"b":"3","p":590,"l":2050},{"b":"3","p":640,"l":2650},{"b":"3","p":700,"l":2300},{"b":"3","p":760,"l":2900},{"b":"3","p":830,"l":2150},{"b":"3","p":900,"l":2500},{"b":"3","p":980,"l":3100},{"b":"3","p":1060,"l":2000},{"b":"3","p":1150,"l":2700},{"b":"3","p":1250,"l":2300},{"b":"3","p":1400,"l":2900},{"b":"3","p":1550,"l":2200},{"b":"3","p":1750,"l":2600},{"b":"3","p":1950,"l":3000},{"b":"3","p":2200,"l":2400},{"b":"3","p":2500,"l":2800},{"b":"3","p":2800,"l":2200},{"b":"3","p":60,"l":2500},{"b":"3","p":110,"l":2900},{"b":"3","p":200,"l":3300},{"b":"3","p":280,"l":2350},{"b":"3","p":350,"l":1700},{"b":"3","p":430,"l":2450},{"b":"3","p":520,"l":2700},{"b":"3","p":620,"l":1800},{"b":"3","p":730,"l":3300},{"b":"3","p":860,"l":1900},{"b":"3","p":1000,"l":2550},{"b":"3","p":1300,"l":1900},{"b":"3","p":1650,"l":3300},{"b":"3","p":2000,"l":2100},{"b":"3","p":3000,"l":2600},
     {"b":"4 or more","p":100,"l":3200},{"b":"4 or more","p":150,"l":3800},{"b":"4 or more","p":200,"l":2800},{"b":"4 or more","p":250,"l":4200},{"b":"4 or more","p":300,"l":3400},{"b":"4 or more","p":350,"l":4600},{"b":"4 or more","p":400,"l":3000},{"b":"4 or more","p":450,"l":3900},{"b":"4 or more","p":500,"l":5000},{"b":"4 or more","p":550,"l":3500},{"b":"4 or more","p":600,"l":4300},{"b":"4 or more","p":650,"l":2900},{"b":"4 or more","p":700,"l":3700},{"b":"4 or more","p":780,"l":4800},{"b":"4 or more","p":850,"l":3300},{"b":"4 or more","p":930,"l":4100},{"b":"4 or more","p":1000,"l":5400},{"b":"4 or more","p":1100,"l":3600},{"b":"4 or more","p":1200,"l":4500},{"b":"4 or more","p":1300,"l":3100},{"b":"4 or more","p":1400,"l":5000},{"b":"4 or more","p":1550,"l":3900},{"b":"4 or more","p":1700,"l":5600},{"b":"4 or more","p":1850,"l":4300},{"b":"4 or more","p":2000,"l":3500},{"b":"4 or more","p":2200,"l":6000},{"b":"4 or more","p":2400,"l":4700},{"b":"4 or more","p":2600,"l":3800},{"b":"4 or more","p":2800,"l":5200},{"b":"4 or more","p":3000,"l":6500},{"b":"4 or more","p":3200,"l":4100},{"b":"4 or more","p":3400,"l":5600},{"b":"4 or more","p":3600,"l":7000},{"b":"4 or more","p":3800,"l":4500},{"b":"4 or more","p":4000,"l":6200},{"b":"4 or more","p":4300,"l":5000},{"b":"4 or more","p":4600,"l":7400},{"b":"4 or more","p":4900,"l":5800},{"b":"4 or more","p":1500,"l":6800},{"b":"4 or more","p":2100,"l":7600},{"b":"4 or more","p":2700,"l":8200},{"b":"4 or more","p":1200,"l":7200},{"b":"4 or more","p":900,"l":6300},{"b":"4 or more","p":3500,"l":8800},{"b":"4 or more","p":4200,"l":9300},{"b":"4 or more","p":600,"l":5800},{"b":"4 or more","p":250,"l":5200},{"b":"4 or more","p":1800,"l":2700},{"b":"4 or more","p":2500,"l":3000},{"b":"4 or more","p":3300,"l":3300},{"b":"4 or more","p":4500,"l":3800},{"b":"4 or more","p":1100,"l":2600},{"b":"4 or more","p":800,"l":2500},{"b":"4 or more","p":150,"l":2600},{"b":"4 or more","p":4800,"l":8000},{"b":"4 or more","p":3900,"l":3000}
    ]},
    "mark":{"type":"circle","size":20,"opacity":0.55},
    "encoding":{
     "x":{"field":"p","type":"quantitative",
          "axis":{"title":"Price","offset":-13.7,"values":[0,1000,2000,3000,4000,5000],"labelExpr":"datum.value == 0 ? '0e+00' : (datum.value/1000) + 'e+06'","labelFontSize":3.8,"ticks":true,"tickSize":1.5,"tickColor":"#333333","tickWidth":0.4,"labelPadding":1,"titlePadding":1.5,"titleFontWeight":"bold","grid":true,"gridColor":"white","gridWidth":0.6,"labelOverlap":false}},
     "y":{"field":"l","type":"quantitative",
          "axis":{"title":"Living Space","offset":-21,"values":[0,2500,5000,7500,10000],"format":"d","labelFontSize":3.8,"ticks":true,"tickSize":1.5,"tickColor":"#333333","tickWidth":0.4,"labelPadding":1,"titlePadding":2,"titleFontWeight":"bold","grid":true,"gridColor":"white","gridWidth":0.6,"labelOverlap":false}},
     "color":{"field":"b","type":"nominal","scale":{"domain":["1","2","3","4 or more"],"range":["#F8766D","#7CAE00","#00BFC4","#C77CFF"]},
        "legend":{"title":"Baths","orient":"none","legendX":124,"legendY":35,"titleFontSize":4.5,"titleFontWeight":"bold","labelFontSize":3.8,"symbolSize":10,"symbolOpacity":0.4,"rowPadding":2.5}}}}
  ]
 },
 {
  "width":156,"height":116,
  "layer":[
   {"data":{"values":[{}]},
    "mark":{"type":"rect","color":"#ebebeb"},
    "encoding":{
     "x":{"datum":0.4,"type":"quantitative","scale":{"domain":[0.4,3.6],"range":[20,122],"nice":false,"zero":false},
          "axis":{"title":"species","offset":-15,"values":[1,2,3],"labelExpr":"['','Adelie','Chinstrap','Gentoo'][datum.value]","labelFontSize":4,"ticks":true,"tickSize":1.5,"tickColor":"#333333","tickWidth":0.4,"labelPadding":1,"titlePadding":1.5,"titleFontWeight":"bold","grid":true,"gridColor":"white","gridWidth":0.6,"labelOverlap":false}},
     "x2":{"datum":3.6},
     "y":{"datum":169.5,"type":"quantitative","scale":{"domain":[169.5,232.6],"range":[101,6],"nice":false,"zero":false},
          "axis":{"title":"flipper_length_mm","offset":-20,"values":[170,180,190,200,210,220,230],"labelFontSize":4,"ticks":true,"tickSize":1.5,"tickColor":"#333333","tickWidth":0.4,"labelPadding":1,"titlePadding":2,"titleFontSize":5,"grid":true,"gridColor":"white","gridWidth":0.6,"labelOverlap":false}},
     "y2":{"datum":232.6}}},
   {"data":{"values":[
     {"sp":"Adelie","fl":171,"lo":1,"hi":1},{"sp":"Adelie","fl":174,"lo":0.92,"hi":1.08},{"sp":"Adelie","fl":178,"lo":0.8,"hi":1.2},{"sp":"Adelie","fl":182,"lo":0.67,"hi":1.33},{"sp":"Adelie","fl":186,"lo":0.55,"hi":1.45},{"sp":"Adelie","fl":189,"lo":0.5,"hi":1.5},{"sp":"Adelie","fl":192,"lo":0.52,"hi":1.48},{"sp":"Adelie","fl":195,"lo":0.6,"hi":1.4},{"sp":"Adelie","fl":198,"lo":0.72,"hi":1.28},{"sp":"Adelie","fl":201,"lo":0.85,"hi":1.15},{"sp":"Adelie","fl":204,"lo":0.93,"hi":1.07},{"sp":"Adelie","fl":207,"lo":0.97,"hi":1.03},{"sp":"Adelie","fl":210,"lo":1,"hi":1},
     {"sp":"Chinstrap","fl":178,"lo":2,"hi":2},{"sp":"Chinstrap","fl":181,"lo":1.94,"hi":2.06},{"sp":"Chinstrap","fl":184,"lo":1.86,"hi":2.14},{"sp":"Chinstrap","fl":187,"lo":1.76,"hi":2.24},{"sp":"Chinstrap","fl":190,"lo":1.67,"hi":2.33},{"sp":"Chinstrap","fl":193,"lo":1.59,"hi":2.41},{"sp":"Chinstrap","fl":196,"lo":1.56,"hi":2.44},{"sp":"Chinstrap","fl":199,"lo":1.6,"hi":2.4},{"sp":"Chinstrap","fl":202,"lo":1.68,"hi":2.32},{"sp":"Chinstrap","fl":205,"lo":1.78,"hi":2.22},{"sp":"Chinstrap","fl":208,"lo":1.88,"hi":2.12},{"sp":"Chinstrap","fl":211,"lo":1.96,"hi":2.04},{"sp":"Chinstrap","fl":213,"lo":2,"hi":2},
     {"sp":"Gentoo","fl":203,"lo":3,"hi":3},{"sp":"Gentoo","fl":205,"lo":2.95,"hi":3.05},{"sp":"Gentoo","fl":208,"lo":2.88,"hi":3.12},{"sp":"Gentoo","fl":211,"lo":2.8,"hi":3.2},{"sp":"Gentoo","fl":214,"lo":2.7,"hi":3.3},{"sp":"Gentoo","fl":217,"lo":2.62,"hi":3.38},{"sp":"Gentoo","fl":220,"lo":2.58,"hi":3.42},{"sp":"Gentoo","fl":223,"lo":2.58,"hi":3.42},{"sp":"Gentoo","fl":226,"lo":2.62,"hi":3.38},{"sp":"Gentoo","fl":229,"lo":2.72,"hi":3.28},{"sp":"Gentoo","fl":231,"lo":2.84,"hi":3.16},{"sp":"Gentoo","fl":232,"lo":3,"hi":3}
    ]},
    "mark":{"type":"area","orient":"horizontal","stroke":"#333333","strokeWidth":0.5},
    "encoding":{
     "y":{"field":"fl","type":"quantitative",
          "axis":{"title":"flipper_length_mm","offset":-20,"values":[170,180,190,200,210,220,230],"labelFontSize":4,"ticks":true,"tickSize":1.5,"tickColor":"#333333","tickWidth":0.4,"labelPadding":1,"titlePadding":2,"titleFontSize":5,"grid":true,"gridColor":"white","gridWidth":0.6,"labelOverlap":false}},
     "x":{"field":"lo","type":"quantitative",
          "axis":{"title":"species","offset":-15,"values":[1,2,3],"labelExpr":"['','Adelie','Chinstrap','Gentoo'][datum.value]","labelFontSize":4,"ticks":true,"tickSize":1.5,"tickColor":"#333333","tickWidth":0.4,"labelPadding":1,"titlePadding":1.5,"titleFontWeight":"bold","grid":true,"gridColor":"white","gridWidth":0.6,"labelOverlap":false}},
     "x2":{"field":"hi"},
     "fill":{"field":"sp","type":"nominal","scale":{"domain":["Adelie","Chinstrap","Gentoo"],"range":["#F8766D","#00BA38","#619CFF"]},
        "legend":{"title":"species","orient":"none","legendX":128,"legendY":40,"titleFontSize":4.5,"labelFontSize":3.8,"symbolType":"square","symbolSize":40,"symbolStrokeColor":"#333333","symbolStrokeWidth":0.5,"rowPadding":2}}}},
   {"data":{"values":[
     {"i":1,"lo":172,"q1":186,"med":190,"q3":195,"hi":210},
     {"i":2,"lo":178,"q1":191,"med":196,"q3":201,"hi":212},
     {"i":3,"lo":203,"q1":212,"med":216,"q3":221,"hi":231}
    ]},
    "encoding":{
     "x":{"field":"i","type":"quantitative",
          "axis":{"title":"species","offset":-15,"values":[1,2,3],"labelExpr":"['','Adelie','Chinstrap','Gentoo'][datum.value]","labelFontSize":4,"ticks":true,"tickSize":1.5,"tickColor":"#333333","tickWidth":0.4,"labelPadding":1,"titlePadding":1.5,"titleFontWeight":"bold","grid":true,"gridColor":"white","gridWidth":0.6,"labelOverlap":false}}},
    "layer":[
     {"mark":{"type":"rule","color":"#333333","strokeWidth":0.5},
      "encoding":{"y":{"field":"lo","type":"quantitative",
          "axis":{"title":"flipper_length_mm","offset":-20,"values":[170,180,190,200,210,220,230],"labelFontSize":4,"ticks":true,"tickSize":1.5,"tickColor":"#333333","tickWidth":0.4,"labelPadding":1,"titlePadding":2,"titleFontSize":5,"grid":true,"gridColor":"white","gridWidth":0.6,"labelOverlap":false}},"y2":{"field":"hi"}}},
     {"mark":{"type":"bar","size":9,"fill":"white","fillOpacity":0.85,"stroke":"#333333","strokeWidth":0.5},
      "encoding":{"y":{"field":"q1","type":"quantitative",
          "axis":{"title":"flipper_length_mm","offset":-20,"values":[170,180,190,200,210,220,230],"labelFontSize":4,"ticks":true,"tickSize":1.5,"tickColor":"#333333","tickWidth":0.4,"labelPadding":1,"titlePadding":2,"titleFontSize":5,"grid":true,"gridColor":"white","gridWidth":0.6,"labelOverlap":false}},"y2":{"field":"q3"}}},
     {"mark":{"type":"tick","orient":"horizontal","size":9,"thickness":0.8,"color":"#333333"},
      "encoding":{"y":{"field":"med","type":"quantitative",
          "axis":{"title":"flipper_length_mm","offset":-20,"values":[170,180,190,200,210,220,230],"labelFontSize":4,"ticks":true,"tickSize":1.5,"tickColor":"#333333","tickWidth":0.4,"labelPadding":1,"titlePadding":2,"titleFontSize":5,"grid":true,"gridColor":"white","gridWidth":0.6,"labelOverlap":false}}}}
    ]},
   {"data":{"values":[
     {"x":0.93,"fl":186},{"x":1.05,"fl":190},{"x":0.97,"fl":195},{"x":1.1,"fl":188},{"x":0.9,"fl":192},{"x":1.02,"fl":184},{"x":1.08,"fl":197},{"x":0.95,"fl":181},{"x":1.12,"fl":191},{"x":0.99,"fl":199},{"x":1.04,"fl":178},{"x":0.92,"fl":189},{"x":1.06,"fl":193},{"x":0.98,"fl":203},{"x":1.0,"fl":187},
     {"x":1.92,"fl":193},{"x":2.05,"fl":196},{"x":2.1,"fl":200},{"x":1.95,"fl":190},{"x":2.02,"fl":205},{"x":1.9,"fl":198},{"x":2.08,"fl":187},{"x":1.97,"fl":201},{"x":2.12,"fl":195},{"x":1.99,"fl":208},{"x":2.04,"fl":192},{"x":1.94,"fl":184},
     {"x":2.93,"fl":215},{"x":3.05,"fl":219},{"x":3.1,"fl":212},{"x":2.95,"fl":222},{"x":3.02,"fl":210},{"x":2.9,"fl":217},{"x":3.08,"fl":225},{"x":2.97,"fl":228},{"x":3.12,"fl":214},{"x":2.99,"fl":208},{"x":3.04,"fl":220},{"x":2.94,"fl":230}
    ]},
    "mark":{"type":"point","size":3,"strokeWidth":0.4,"color":"#444444","opacity":0.7},
    "encoding":{
     "x":{"field":"x","type":"quantitative",
          "axis":{"title":"species","offset":-15,"values":[1,2,3],"labelExpr":"['','Adelie','Chinstrap','Gentoo'][datum.value]","labelFontSize":4,"ticks":true,"tickSize":1.5,"tickColor":"#333333","tickWidth":0.4,"labelPadding":1,"titlePadding":1.5,"titleFontWeight":"bold","grid":true,"gridColor":"white","gridWidth":0.6,"labelOverlap":false}},
     "y":{"field":"fl","type":"quantitative",
          "axis":{"title":"flipper_length_mm","offset":-20,"values":[170,180,190,200,210,220,230],"labelFontSize":4,"ticks":true,"tickSize":1.5,"tickColor":"#333333","tickWidth":0.4,"labelPadding":1,"titlePadding":2,"titleFontSize":5,"grid":true,"gridColor":"white","gridWidth":0.6,"labelOverlap":false}}}},
   {"data":{"values":[{"i":1,"mean":189.9},{"i":2,"mean":195.8},{"i":3,"mean":217.2}]},
    "mark":{"type":"circle","size":18,"color":"#e0307a","opacity":1},
    "encoding":{
     "x":{"field":"i","type":"quantitative",
          "axis":{"title":"species","offset":-15,"values":[1,2,3],"labelExpr":"['','Adelie','Chinstrap','Gentoo'][datum.value]","labelFontSize":4,"ticks":true,"tickSize":1.5,"tickColor":"#333333","tickWidth":0.4,"labelPadding":1,"titlePadding":1.5,"titleFontWeight":"bold","grid":true,"gridColor":"white","gridWidth":0.6,"labelOverlap":false}},
     "y":{"field":"mean","type":"quantitative",
          "axis":{"title":"flipper_length_mm","offset":-20,"values":[170,180,190,200,210,220,230],"labelFontSize":4,"ticks":true,"tickSize":1.5,"tickColor":"#333333","tickWidth":0.4,"labelPadding":1,"titlePadding":2,"titleFontSize":5,"grid":true,"gridColor":"white","gridWidth":0.6,"labelOverlap":false}}}}
  ]
 }
]
}
